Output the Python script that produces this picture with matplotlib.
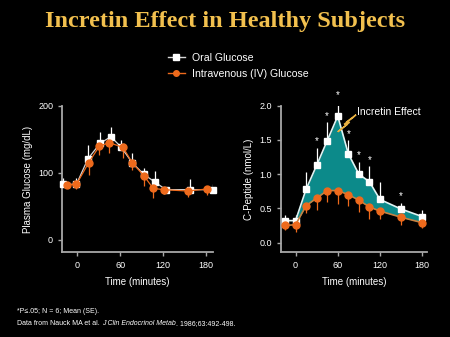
import matplotlib
matplotlib.use("Agg")
import matplotlib.pyplot as plt
from matplotlib.patches import Polygon
from matplotlib.lines import Line2D
import numpy as np

# ---- data ----
glu_oral_t = [-20, -1, 15, 32, 47, 61, 77, 93, 109, 124, 157, 189]
glu_oral = [83, 83, 121, 144, 154, 139, 115, 98, 86, 75, 75, 75]
glu_oral_err = [9, 10, 20, 17, 14, 10, 14, 9, 17, 3, 16, 9]
glu_iv_t = [-14, -1, 16, 31, 45, 64, 77, 93, 106, 121, 154, 181]
glu_iv = [82, 83, 115, 140, 145, 138, 115, 96, 77, 75, 73, 76]
glu_iv_err = [3, 7, 18, 13, 16, 16, 10, 16, 15, 6, 9, 9]

cp_t = [-15, 0, 15, 30, 45, 60, 75, 90, 105, 120, 150, 180]
cp_oral = [0.32, 0.32, 0.78, 1.13, 1.49, 1.85, 1.30, 1.00, 0.89, 0.63, 0.49, 0.38]
cp_oral_err = [0.08, 0.08, 0.25, 0.26, 0.27, 0.22, 0.20, 0.18, 0.23, 0.26, 0.09, 0.09]
cp_iv = [0.25, 0.26, 0.54, 0.65, 0.76, 0.76, 0.70, 0.62, 0.52, 0.46, 0.37, 0.29]
cp_iv_err = [0.07, 0.10, 0.11, 0.17, 0.17, 0.19, 0.17, 0.17, 0.17, 0.11, 0.11, 0.08]
cp_signif = [30, 45, 60, 75, 90, 105, 150]

x_ticks = [0, 60, 120, 180]
glu_ticks = [0, 100, 200]
cp_ticks = [0.0, 0.5, 1.0, 1.5, 2.0]

WHITE = "#ffffff"
ORANGE = "#ee6a1c"
TEAL = "#0c8a8a"
GOLD = "#f2c04e"
SPINE = "#a8a8a8"

plt.rcParams['font.family'] = ['Liberation Sans', 'DejaVu Sans']

fig = plt.figure(figsize=(4.5, 3.37), dpi=100, facecolor='black')

fig.text(0.5, 0.935, "Incretin Effect in Healthy Subjects", ha='center', va='center',
         color=GOLD, fontsize=17.5, fontweight='bold', family=['Liberation Serif'])

ax1 = fig.add_axes([0.138, 0.252, 0.336, 0.434])
ax2 = fig.add_axes([0.624, 0.252, 0.325, 0.434])

for ax in (ax1, ax2):
    ax.set_facecolor('black')
    for s in ('top', 'right'):
        ax.spines[s].set_visible(False)
    for s in ('left', 'bottom'):
        ax.spines[s].set_color(SPINE)
        ax.spines[s].set_linewidth(1.3)
    ax.tick_params(colors=SPINE, labelcolor=WHITE, labelsize=6.5, length=3, width=1, direction='out')
    ax.set_xticks(x_ticks)
    ax.set_xlabel("Time (minutes)", color=WHITE, fontsize=7, labelpad=5)

# ---- left: plasma glucose ----
ax1.errorbar(glu_oral_t, glu_oral, yerr=[np.zeros(len(glu_oral_err)), glu_oral_err],
             fmt='none', ecolor=WHITE, elinewidth=0.9, capsize=0, zorder=2)
ax1.errorbar(glu_iv_t, glu_iv, yerr=[glu_iv_err, np.zeros(len(glu_iv_err))],
             fmt='none', ecolor=ORANGE, elinewidth=0.9, capsize=0, zorder=2)
ax1.plot(glu_oral_t, glu_oral, color="#d8d8d8", lw=0.9, marker='s', ms=5,
         mfc=WHITE, mec=WHITE, zorder=3, clip_on=False)
ax1.plot(glu_iv_t, glu_iv, color=ORANGE, lw=0.9, marker='o', ms=5,
         mfc=ORANGE, mec=ORANGE, zorder=4, clip_on=False)
ax1.set_xlim(-21, 190)
ax1.set_ylim(-18, 200)
ax1.set_yticks(glu_ticks)
ax1.set_ylabel("Plasma Glucose (mg/dL)", color=WHITE, fontsize=7, labelpad=4)

# ---- right: C-peptide ----
t = np.array(cp_t)
o = np.array(cp_oral)
i = np.array(cp_iv)
mask = t >= 0
ax2.fill_between(t[mask], i[mask], o[mask], color=TEAL, lw=0, zorder=1)
ax2.errorbar(cp_t, cp_oral, yerr=[np.zeros(len(cp_oral_err)), cp_oral_err],
             fmt='none', ecolor=WHITE, elinewidth=0.9, capsize=0, zorder=2)
ax2.errorbar(cp_t, cp_iv, yerr=[cp_iv_err, np.zeros(len(cp_iv_err))],
             fmt='none', ecolor=ORANGE, elinewidth=0.9, capsize=0, zorder=2)
ax2.plot(cp_t, cp_oral, color="#dff4f4", lw=1.2, marker='s', ms=5,
         mfc=WHITE, mec=WHITE, zorder=3, clip_on=False)
ax2.plot(cp_t, cp_iv, color="#c88040", lw=1.2, marker='o', ms=5,
         mfc=ORANGE, mec=ORANGE, zorder=4, clip_on=False)
for tt, v, e in zip(cp_t, cp_oral, cp_oral_err):
    if tt in cp_signif:
        ax2.text(tt, v + e + 0.02, "*", color=WHITE, fontsize=7, ha='center', va='bottom',
                 clip_on=False)
ax2.set_xlim(-21, 187)
ax2.set_ylim(-0.14, 2.0)
ax2.set_yticks(cp_ticks)
ax2.set_yticklabels([f"{v:.1f}" for v in cp_ticks])
ax2.set_ylabel("C-Peptide (nmol/L)", color=WHITE, fontsize=7, labelpad=4)

ax2.text(88, 1.91, "Incretin Effect", color=WHITE, fontsize=7.5, ha='left', va='center')
bolt = Polygon([(86, 1.87), (72, 1.76), (77, 1.76), (60, 1.62), (74, 1.73), (69, 1.73), (82, 1.83)],
               closed=True, color="#e8b040", zorder=5)
ax2.add_patch(bolt)

# ---- legend ----
h1 = Line2D([], [], color="#d8d8d8", lw=1, marker='s', ms=4, mfc=WHITE, mec=WHITE)
h2 = Line2D([], [], color=ORANGE, lw=1, marker='o', ms=4, mfc=ORANGE, mec=ORANGE)
leg = fig.legend([h1, h2], ["Oral Glucose", "Intravenous (IV) Glucose"],
                 loc='upper left', bbox_to_anchor=(0.352, 0.871), frameon=False,
                 fontsize=7.6, handlelength=1.6, labelspacing=0.55, handletextpad=0.7)
for txt in leg.get_texts():
    txt.set_color(WHITE)

# ---- footnotes ----
fs = 5
fig.text(0.038, 0.076, "*P\u2264.05; N = 6; Mean (SE).", color=WHITE, fontsize=fs, ha='left', va='center')
t1 = fig.text(0.038, 0.040, "Data from Nauck MA et al. ", color=WHITE, fontsize=fs, ha='left', va='center')
t2 = plt.annotate("J Clin Endocrinol Metab", xy=(1, 0.5), xycoords=t1, va='center', ha='left',
                  color=WHITE, fontsize=fs, style='italic', annotation_clip=False)
plt.annotate(". 1986;63:492-498.", xy=(1, 0.5), xycoords=t2, va='center', ha='left',
             color=WHITE, fontsize=fs, annotation_clip=False)

fig.savefig("out.png", dpi=100, facecolor='black')
